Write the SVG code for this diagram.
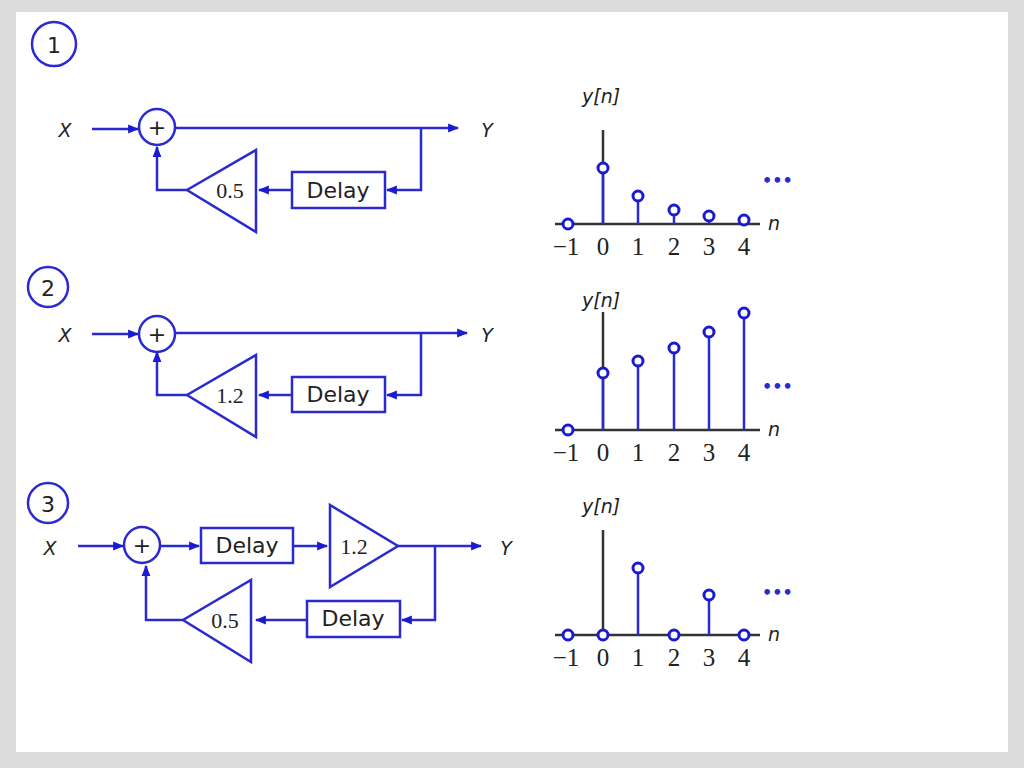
<svg xmlns="http://www.w3.org/2000/svg" width="1024" height="768" viewBox="0 0 1024 768">
<defs>
<marker id="a" viewBox="0 0 10 10" refX="9" refY="5" markerWidth="11" markerHeight="11" markerUnits="userSpaceOnUse" orient="auto"><path d="M0,1 L10,5 L0,9 Z" fill="#1a1ad0"/></marker>
<style>
.w{stroke:#2a2ad0;stroke-width:2.5;fill:none}
.b{stroke:#2a2ad0;stroke-width:2.5;fill:#fff}
.t{font-family:"DejaVu Sans",sans-serif;font-size:22px;fill:#222}
.s{font-family:"Liberation Serif",serif;font-size:22px;fill:#222}
.n{font-family:"Liberation Serif",serif;font-size:25px;fill:#222}
.i{font-family:"DejaVu Sans",sans-serif;font-style:italic;font-size:19px;fill:#222}
.ax{stroke:#333;stroke-width:2.5}
.st{stroke:#2a2ad0;stroke-width:2.5}
.p{fill:#fff;stroke:#1a1ad0;stroke-width:3}
.d{font-family:"DejaVu Sans",sans-serif;font-size:16px;font-weight:bold;fill:#2a2ad0}
</style>
</defs>
<rect width="1024" height="768" fill="#dcdcdc"/>
<rect x="16" y="12" width="992" height="740" fill="#fff"/>
<g id="labels">
<circle cx="54" cy="44" r="22" class="b"/><text x="54" y="53" class="t" text-anchor="middle">1</text>
<circle cx="48" cy="287" r="20" class="b"/><text x="48" y="296" class="t" text-anchor="middle">2</text>
<circle cx="48" cy="503" r="20" class="b"/><text x="48" y="512" class="t" text-anchor="middle">3</text>
</g>
<g id="connectors">
<path class="w" d="M92,129 H138" marker-end="url(#a)"/>
<path class="w" d="M175,128 H458" marker-end="url(#a)"/>
<path class="w" d="M421,128 V190 H387" marker-end="url(#a)"/>
<path class="w" d="M292,190 H259" marker-end="url(#a)"/>
<path class="w" d="M187,190 H157 V147" marker-end="url(#a)"/>
<path class="w" d="M92,334 H138" marker-end="url(#a)"/>
<path class="w" d="M175,333 H467" marker-end="url(#a)"/>
<path class="w" d="M421,333 V395 H387" marker-end="url(#a)"/>
<path class="w" d="M292,395 H259" marker-end="url(#a)"/>
<path class="w" d="M187,395 H157 V352" marker-end="url(#a)"/>
<path class="w" d="M78,546 H123" marker-end="url(#a)"/>
<path class="w" d="M161,546 H199" marker-end="url(#a)"/>
<path class="w" d="M293,546 H327" marker-end="url(#a)"/>
<path class="w" d="M398,546 H481" marker-end="url(#a)"/>
<path class="w" d="M435,546 V620 H402" marker-end="url(#a)"/>
<path class="w" d="M307,620 H256" marker-end="url(#a)"/>
<path class="w" d="M183,620 H146 V566" marker-end="url(#a)"/>
</g>
<g id="d1">
<text x="65" y="137" class="i" text-anchor="middle">X</text>
<text x="487" y="137" class="i" text-anchor="middle">Y</text>
<g id="sum1"><circle cx="157" cy="127" r="18" class="b"/><text x="157" y="135" class="t" text-anchor="middle">+</text></g>
<g id="delay1"><rect x="292" y="172" width="93" height="36" class="b"/><text x="338" y="198" class="t" text-anchor="middle">Delay</text></g>
<g id="gain1"><path d="M256,150 V232 L187,190 Z" class="b"/><text x="230" y="198" class="s" text-anchor="middle">0.5</text></g>
</g>
<g id="d2">
<text x="65" y="342" class="i" text-anchor="middle">X</text>
<text x="487" y="342" class="i" text-anchor="middle">Y</text>
<g id="sum2"><circle cx="157" cy="334" r="18" class="b"/><text x="157" y="342" class="t" text-anchor="middle">+</text></g>
<g id="delay2"><rect x="292" y="377" width="93" height="35" class="b"/><text x="338" y="402" class="t" text-anchor="middle">Delay</text></g>
<g id="gain2"><path d="M256,355 V437 L187,395 Z" class="b"/><text x="230" y="403" class="s" text-anchor="middle">1.2</text></g>
</g>
<g id="d3">
<text x="50" y="555" class="i" text-anchor="middle">X</text>
<text x="506" y="555" class="i" text-anchor="middle">Y</text>
<g id="sum3"><circle cx="142" cy="545" r="18" class="b"/><text x="142" y="553" class="t" text-anchor="middle">+</text></g>
<g id="delay3a"><rect x="201" y="528" width="92" height="35" class="b"/><text x="247" y="553" class="t" text-anchor="middle">Delay</text></g>
<g id="gain3a"><path d="M330,505 V587 L398,546 Z" class="b"/><text x="354" y="554" class="s" text-anchor="middle">1.2</text></g>
<g id="delay3b"><rect x="307" y="601" width="93" height="36" class="b"/><text x="353" y="626" class="t" text-anchor="middle">Delay</text></g>
<g id="gain3b"><path d="M251,580 V662 L183,620 Z" class="b"/><text x="225" y="628" class="s" text-anchor="middle">0.5</text></g>
</g>
<g id="plot1">
<text x="582" y="103" class="i">y[n]</text>
<line x1="603" y1="130" x2="603" y2="224" class="ax"/>
<line x1="555" y1="224" x2="760" y2="224" class="ax"/>
<text x="768" y="230" class="i">n</text>
<line x1="603" y1="224" x2="603" y2="168" class="st"/><line x1="638" y1="224" x2="638" y2="196" class="st"/><line x1="674" y1="224" x2="674" y2="210" class="st"/><line x1="709" y1="224" x2="709" y2="216" class="st"/>
<circle cx="568" cy="224" r="5" class="p"/><circle cx="603" cy="168" r="5" class="p"/><circle cx="638" cy="196" r="5" class="p"/><circle cx="674" cy="210" r="5" class="p"/><circle cx="709" cy="216" r="5" class="p"/><circle cx="744" cy="220" r="5" class="p"/>
<text x="762" y="186" class="d">•••</text>
<g class="n" text-anchor="middle"><text x="566" y="255">−1</text><text x="603" y="255">0</text><text x="638" y="255">1</text><text x="674" y="255">2</text><text x="709" y="255">3</text><text x="744" y="255">4</text></g>
</g>
<g id="plot2">
<text x="582" y="307" class="i">y[n]</text>
<line x1="603" y1="312" x2="603" y2="430" class="ax"/>
<line x1="555" y1="430" x2="760" y2="430" class="ax"/>
<text x="768" y="436" class="i">n</text>
<line x1="603" y1="430" x2="603" y2="373" class="st"/><line x1="638" y1="430" x2="638" y2="361" class="st"/><line x1="674" y1="430" x2="674" y2="348" class="st"/><line x1="709" y1="430" x2="709" y2="332" class="st"/><line x1="744" y1="430" x2="744" y2="313" class="st"/>
<circle cx="568" cy="430" r="5" class="p"/><circle cx="603" cy="373" r="5" class="p"/><circle cx="638" cy="361" r="5" class="p"/><circle cx="674" cy="348" r="5" class="p"/><circle cx="709" cy="332" r="5" class="p"/><circle cx="744" cy="313" r="5" class="p"/>
<text x="762" y="392" class="d">•••</text>
<g class="n" text-anchor="middle"><text x="566" y="461">−1</text><text x="603" y="461">0</text><text x="638" y="461">1</text><text x="674" y="461">2</text><text x="709" y="461">3</text><text x="744" y="461">4</text></g>
</g>
<g id="plot3">
<text x="582" y="513" class="i">y[n]</text>
<line x1="603" y1="530" x2="603" y2="635" class="ax"/>
<line x1="555" y1="635" x2="760" y2="635" class="ax"/>
<text x="768" y="641" class="i">n</text>
<line x1="638" y1="635" x2="638" y2="568" class="st"/><line x1="709" y1="635" x2="709" y2="595" class="st"/>
<circle cx="568" cy="635" r="5" class="p"/><circle cx="603" cy="635" r="5" class="p"/><circle cx="638" cy="568" r="5" class="p"/><circle cx="674" cy="635" r="5" class="p"/><circle cx="709" cy="595" r="5" class="p"/><circle cx="744" cy="635" r="5" class="p"/>
<text x="762" y="598" class="d">•••</text>
<g class="n" text-anchor="middle"><text x="566" y="666">−1</text><text x="603" y="666">0</text><text x="638" y="666">1</text><text x="674" y="666">2</text><text x="709" y="666">3</text><text x="744" y="666">4</text></g>
</g>
</svg>
